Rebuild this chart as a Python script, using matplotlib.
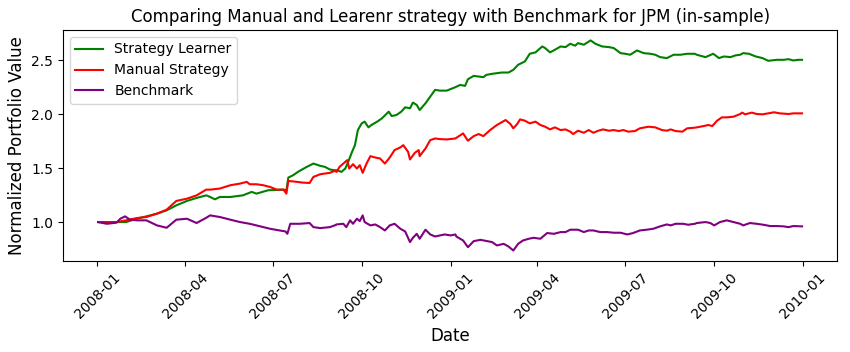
import matplotlib
matplotlib.use("Agg")
import matplotlib.pyplot as plt
import matplotlib.dates as mdates
import pandas as pd

START = "2008-01-01"

# Strategy Learner: days since START, normalized value
sl_days = [1, 10, 20, 30, 41, 51, 62, 72, 82, 93,
           103, 113, 117, 122, 127, 138, 151, 160, 165, 177,
           193, 196, 198, 203, 208, 217, 224, 231, 236, 241,
           246, 248, 253, 257, 260, 264, 267, 270, 274, 277,
           281, 284, 290, 295, 302, 305, 310, 315, 319, 324,
           327, 331, 334, 340, 345, 350, 355, 362, 371, 376,
           381, 384, 390, 395, 400, 403, 409, 414, 419, 426,
           431, 436, 443, 448, 454, 457, 461, 464, 469, 474,
           480, 485, 490, 495, 498, 504, 511, 516, 523, 530,
           535, 542, 547, 552, 559, 566, 573, 578, 583, 590,
           597, 604, 611, 619, 621, 630, 638, 644, 649, 656,
           661, 666, 669, 675, 682, 689, 695, 704, 711, 716,
           721, 726, 730]
sl_vals = [1.000, 1.000, 1.000, 1.000, 1.031, 1.053, 1.078, 1.109, 1.155, 1.196,
           1.224, 1.248, 1.233, 1.211, 1.233, 1.233, 1.248, 1.280, 1.264, 1.295,
           1.301, 1.295, 1.413, 1.435, 1.466, 1.512, 1.543, 1.522, 1.512, 1.488,
           1.481, 1.481, 1.466, 1.497, 1.559, 1.652, 1.714, 1.854, 1.916, 1.932,
           1.879, 1.901, 1.932, 1.963, 2.025, 1.984, 1.994, 2.025, 2.065, 2.056,
           2.109, 2.087, 2.040, 2.102, 2.165, 2.227, 2.220, 2.220, 2.252, 2.273,
           2.264, 2.326, 2.357, 2.351, 2.345, 2.366, 2.376, 2.382, 2.388, 2.388,
           2.413, 2.460, 2.491, 2.562, 2.575, 2.599, 2.630, 2.615, 2.575, 2.599,
           2.630, 2.624, 2.655, 2.637, 2.661, 2.646, 2.686, 2.655, 2.630, 2.624,
           2.615, 2.568, 2.562, 2.553, 2.593, 2.568, 2.562, 2.553, 2.531, 2.522,
           2.553, 2.553, 2.562, 2.562, 2.553, 2.531, 2.562, 2.522, 2.537, 2.531,
           2.547, 2.553, 2.568, 2.562, 2.537, 2.522, 2.497, 2.506, 2.506, 2.512,
           2.500, 2.506, 2.506]

# Manual Strategy
ms_days = [1, 10, 20, 30, 41, 51, 62, 72, 82, 93,
           103, 113, 117, 127, 138, 148, 155, 158, 165, 172,
           179, 186, 193, 196, 198, 207, 213, 220, 224, 231,
           241, 246, 248, 251, 257, 259, 261, 265, 269, 272,
           275, 279, 283, 288, 293, 298, 303, 308, 314, 317,
           322, 324, 329, 333, 334, 340, 345, 350, 355, 362,
           371, 379, 384, 390, 395, 400, 407, 414, 423, 428,
           431, 435, 438, 443, 448, 454, 459, 464, 469, 474,
           480, 485, 490, 493, 498, 504, 509, 514, 519, 524,
           530, 535, 540, 545, 550, 557, 562, 571, 578, 585,
           590, 594, 599, 606, 611, 619, 621, 628, 633, 637,
           642, 647, 652, 659, 666, 668, 671, 678, 683, 689,
           695, 701, 707, 716, 721, 730]
ms_vals = [1.000, 1.000, 1.000, 1.016, 1.037, 1.047, 1.078, 1.115, 1.196, 1.217,
           1.248, 1.301, 1.301, 1.311, 1.342, 1.357, 1.373, 1.351, 1.351, 1.342,
           1.326, 1.301, 1.301, 1.264, 1.382, 1.373, 1.366, 1.363, 1.419, 1.444,
           1.457, 1.475, 1.466, 1.512, 1.559, 1.575, 1.497, 1.537, 1.497, 1.528,
           1.457, 1.543, 1.612, 1.599, 1.590, 1.543, 1.599, 1.668, 1.693, 1.714,
           1.652, 1.581, 1.643, 1.668, 1.612, 1.683, 1.761, 1.776, 1.770, 1.767,
           1.776, 1.823, 1.755, 1.798, 1.817, 1.798, 1.854, 1.901, 1.947, 1.910,
           1.870, 1.910, 1.953, 1.941, 1.916, 1.932, 1.901, 1.885, 1.860, 1.879,
           1.854, 1.860, 1.839, 1.817, 1.848, 1.829, 1.854, 1.829, 1.848, 1.860,
           1.848, 1.854, 1.845, 1.854, 1.839, 1.845, 1.870, 1.885, 1.879, 1.854,
           1.848, 1.860, 1.845, 1.839, 1.870, 1.876, 1.879, 1.891, 1.901, 1.891,
           1.941, 1.972, 1.972, 1.978, 2.003, 2.016, 2.000, 2.016, 2.003, 2.000,
           2.009, 2.019, 2.009, 2.003, 2.009, 2.009]

# Benchmark
bm_days = [1, 10, 20, 24, 29, 34, 41, 51, 62, 72,
           82, 93, 103, 113, 117, 127, 138, 148, 158, 169,
           179, 189, 195, 197, 200, 210, 220, 224, 231, 241,
           246, 248, 255, 258, 262, 265, 269, 272, 275, 277,
           283, 288, 293, 298, 303, 308, 314, 319, 324, 327,
           331, 334, 340, 345, 350, 355, 360, 366, 371, 372,
           379, 384, 390, 397, 404, 409, 414, 421, 426, 431,
           436, 441, 447, 452, 459, 466, 473, 480, 485, 490,
           495, 498, 504, 509, 514, 521, 528, 535, 542, 549,
           555, 562, 569, 576, 583, 590, 594, 599, 607, 612,
           619, 621, 630, 635, 639, 645, 652, 659, 666, 669,
           676, 683, 690, 697, 704, 711, 716, 721, 730]
bm_vals = [1.000, 0.984, 0.994, 1.031, 1.053, 1.022, 1.016, 1.016, 0.969, 0.947,
           1.022, 1.031, 0.991, 1.040, 1.062, 1.047, 1.022, 1.000, 0.984, 0.960,
           0.938, 0.922, 0.913, 0.891, 0.984, 0.984, 0.991, 0.953, 0.944, 0.953,
           0.969, 0.978, 0.984, 0.953, 1.016, 0.984, 1.031, 1.009, 1.062, 1.000,
           0.969, 0.978, 0.953, 0.922, 0.969, 0.984, 0.938, 0.913, 0.814, 0.854,
           0.891, 0.845, 0.929, 0.885, 0.866, 0.876, 0.885, 0.876, 0.885, 0.866,
           0.829, 0.767, 0.823, 0.835, 0.823, 0.814, 0.783, 0.798, 0.773, 0.736,
           0.798, 0.829, 0.845, 0.854, 0.845, 0.898, 0.891, 0.907, 0.907, 0.929,
           0.929, 0.929, 0.907, 0.922, 0.922, 0.907, 0.907, 0.901, 0.901, 0.885,
           0.898, 0.922, 0.929, 0.938, 0.960, 0.978, 0.969, 0.984, 0.984, 0.975,
           0.984, 0.991, 1.000, 0.991, 0.969, 1.000, 1.016, 1.000, 0.984, 0.969,
           0.991, 0.984, 0.975, 0.963, 0.963, 0.960, 0.953, 0.963, 0.960]


def to_dates(days):
    return pd.Timestamp(START) + pd.to_timedelta(days, unit="D")


fig = plt.figure(figsize=(8.5, 3.52), dpi=100)
ax = fig.add_axes([0.074, 0.2585, 0.911, 0.6565])

ax.plot(to_dates(sl_days), sl_vals, color="green", label="Strategy Learner")
ax.plot(to_dates(ms_days), ms_vals, color="red", label="Manual Strategy")
ax.plot(to_dates(bm_days), bm_vals, color="purple", label="Benchmark")

ax.xaxis.set_major_locator(mdates.MonthLocator(bymonth=[1, 4, 7, 10]))
ax.xaxis.set_major_formatter(mdates.DateFormatter("%Y-%m"))
plt.setp(ax.get_xticklabels(), rotation=45)

ax.set_title("Comparing Manual and Learenr strategy with Benchmark for JPM (in-sample)", fontsize=12)
ax.set_xlabel("Date", fontsize=12)
ax.set_ylabel("Normalized Portfolio Value", fontsize=12)
ax.legend(loc="upper left")

fig.savefig("out.png", dpi=100)
